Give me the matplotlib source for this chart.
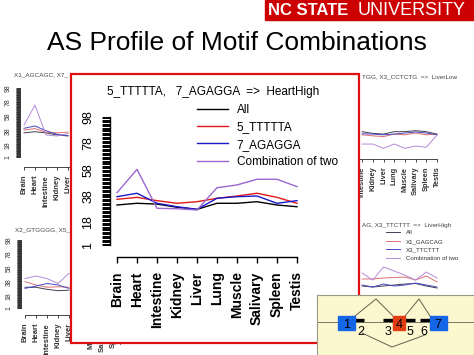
import matplotlib.pyplot as plt
from matplotlib.patches import Rectangle

plt.rcParams['font.family'] = ['Liberation Sans', 'DejaVu Sans']

tissues = ['Brain', 'Heart', 'Intestine', 'Kidney', 'Liver',
           'Lung', 'Muscle', 'Salivary', 'Spleen', 'Testis']
y_ticks = [1, 18, 38, 58, 78, 98]

# main chart: 5_TTTTTA, 7_AGAGGA => HeartHigh
main_labels = ['All', '5_TTTTTA', '7_AGAGGA', 'Combination of two']
main_all = [31.3, 32.6, 32.0, 29.6, 28.0, 32.6, 32.6, 33.8, 31.3, 30.0]
main_m5 = [35.6, 37.1, 34.6, 32.6, 33.8, 36.4, 38.1, 40.2, 37.1, 32.6]
main_m7 = [37.6, 40.2, 32.6, 30.0, 28.0, 36.4, 37.6, 38.1, 32.6, 34.6]
main_comb = [40.6, 58.3, 28.8, 28.5, 27.5, 44.4, 46.5, 50.8, 50.8, 45.2]

# background charts, only the parts not hidden by the inset
tl_idx = [0, 1, 2, 3, 4]
tl_all = [35.0, 36.6, 35.0, 32.0, 30.6]
tl_m1 = [39.0, 41.0, 36.0, 35.0, 36.0]
tl_m2 = [41.4, 44.7, 38.0, 33.0, 31.0]
tl_comb = [46.0, 74.0, 32.0, 30.6, 34.0]

bl_idx = [0, 1, 2, 3, 4]
bl_all = [30.6, 30.6, 27.7, 25.7, 26.5]
bl_m1 = [38.6, 33.9, 30.6, 31.4, 30.6]
bl_m2 = [29.0, 32.4, 36.0, 34.0, 29.0]
bl_comb = [43.0, 46.7, 43.0, 36.0, 50.6]

tr_idx = [2, 3, 4, 5, 6, 7, 8, 9]
tr_all = [25.4, 23.0, 22.0, 25.4, 25.4, 26.8, 25.4, 22.0]
tr_m1 = [21.0, 19.5, 18.5, 22.0, 21.0, 23.5, 21.0, 22.0]
tr_m2 = [22.5, 22.0, 21.0, 22.0, 23.5, 25.0, 23.5, 21.0]
tr_comb = [8.0, 8.0, 2.0, 8.0, 2.0, 5.2, 3.4, 20.7]

br_labels = ['All', 'X1_GAGCAG', 'X3_TTCTTT', 'Combination of two']
br_idx = [2, 3, 4, 5, 6, 7, 8, 9]
br_all = [20.7, 19.3, 20.7, 22.1, 23.5, 24.2, 20.7, 17.9]
br_m1 = [30.6, 30.6, 32.0, 32.7, 33.4, 29.2, 34.8, 26.4]
br_m2 = [22.1, 19.3, 23.5, 20.7, 22.1, 24.9, 22.1, 19.3]
br_comb = [39.0, 29.0, 47.5, 41.8, 36.0, 29.0, 40.4, 32.0]

main_colors = ['black', '#e01818', '#1a1ac8', '#9a66d0']
faint_colors = ['#404050', '#e07070', '#4848c0', '#b48ad8']

W, H = 474, 355
fig = plt.figure(figsize=(W / 100, H / 100), dpi=100)


def box(x0, y0, x1, y1, **kw):
    return fig.add_axes([x0 / W, 1 - y1 / H, (x1 - x0) / W, (y1 - y0) / H], **kw)


def profile(x_first, dx, y_v1, dy, y_axis, s, zorder, tc='black'):
    ax = box(x_first - 0.36 * dx, y_v1 - 101 * dy, x_first + 9.36 * dx, y_axis,
             zorder=zorder)
    ax.set_xlim(-0.36, 9.36)
    ax.set_ylim(1 - (y_axis - y_v1) / dy, 102)
    ax.patch.set_visible(False)
    ax.spines[['top', 'right']].set_visible(False)
    ax.spines['left'].set_bounds(1, 98)
    ax.spines['bottom'].set_bounds(0, 9)
    ax.set_xticks(range(10))
    ax.set_xticklabels(tissues, rotation=90, fontweight='bold',
                       fontsize=10 * s, color=tc)
    ax.set_yticks(y_ticks)
    ax.set_yticklabels(y_ticks, rotation=90, va='center', fontsize=9 * s, color=tc)
    ax.set_yticks(range(1, 99), minor=True)
    ax.tick_params(axis='y', which='both', length=5.8 * s, width=0.7,
                   pad=5.5 * s, colors=tc)
    ax.tick_params(axis='x', length=4.3 * s, width=0.8 * s + 0.2,
                   pad=6 * s, colors=tc)
    ax.tick_params(labelcolor=tc)
    for sp in ax.spines.values():
        sp.set_linewidth(0.8 * s + 0.2)
        sp.set_color(tc)
    return ax


def small(ax, idx, series, labels=None):
    for vals, c, lab in zip(series, faint_colors, labels or [None] * 4):
        ax.plot(idx, vals, color=c, lw=0.7, label=lab)


# background charts
ax_tl = profile(24, 11, 157, 0.71, 167, 0.55, 0, tc='#333333')
for t in ax_tl.get_xticklabels()[5:]:
    t.set_visible(False)  # fully behind the inset
small(ax_tl, tl_idx, [tl_all, tl_m1, tl_m2, tl_comb])
fig.text(14 / W, 1 - 75 / H, 'X1_AGCAGC, X7_', fontsize=4.6, color='#444444',
         va='center')

ax_bl = profile(25, 11, 308, 0.70, 315, 0.55, 0, tc='#333333')
small(ax_bl, bl_idx, [bl_all, bl_m1, bl_m2, bl_comb])
fig.text(15 / W, 1 - 230 / H, 'X2_GTGGGG, X5_', fontsize=4.6, color='#444444',
         va='center')

ax_tr = profile(340.7, 10.7, 149, 0.71, 159, 0.53, 0, tc='#333333')
ax_tr.tick_params(axis='y', labelleft=False)  # hidden behind the inset
small(ax_tr, tr_idx, [tr_all, tr_m1, tr_m2, tr_comb])
fig.text(362 / W, 1 - 77 / H, 'TGG, X3_CCTCTG  =>  LiverLow', fontsize=4.6,
         color='#444444', va='center')

ax_br = profile(340.7, 10.7, 300, 0.71, 310, 0.53, 0, tc='#333333')
ax_br.tick_params(labelleft=False, labelbottom=False)  # hidden by inset / diagram
small(ax_br, br_idx, [br_all, br_m1, br_m2, br_comb], br_labels)
fig.text(362 / W, 1 - 225 / H, 'AG, X3_TTCTTT  =>  LiverHigh', fontsize=4.6,
         color='#444444', va='center')
ax_br.legend(loc='upper left', bbox_to_anchor=(386 / W, 1 - 230 / H),
             bbox_transform=fig.transFigure, frameon=False, fontsize=4.4,
             handlelength=2.3, handletextpad=1.0, labelspacing=0.55,
             borderpad=0, borderaxespad=0, labelcolor='#333333')

# inset frame
fig.add_artist(Rectangle((71 / W, 1 - 343 / H), (359 - 71) / W, (343 - 74) / H,
                         transform=fig.transFigure, facecolor='white',
                         edgecolor='#e01010', lw=1.6, zorder=1))

# main chart
ax = profile(117, 20, 245, 1.32, 257, 1.0, 2)
for vals, c, lab in zip([main_all, main_m5, main_m7, main_comb], main_colors, main_labels):
    ax.plot(range(10), vals, color=c, lw=1.0, label=lab)
fig.text(107 / W, 1 - 92 / H, '5_TTTTTA,   7_AGAGGA  =>  HeartHigh', fontsize=8.5,
         va='center', zorder=3)
ax.legend(loc='upper left', bbox_to_anchor=(197 / W, 1 - 104 / H),
          bbox_transform=fig.transFigure, frameon=False, fontsize=8.5,
          handlelength=2.6, handletextpad=0.75, labelspacing=0.45,
          borderpad=0, borderaxespad=0)

# exon diagram
dg = box(317, 295, 474, 355, zorder=3)
dg.set_facecolor('#fcf7cf')
dg.set_xlim(317, 474)
dg.set_ylim(355, 295)
dg.set_xticks([])
dg.set_yticks([])
for sp in dg.spines.values():
    sp.set_color('#999988')
    sp.set_linewidth(0.8)
dg.axhline(322, color='#777766', lw=0.7)
for x0, w, c in [(338, 17, '#1466e6'), (393, 12, '#e23c12'), (430, 17, '#1466e6')]:
    dg.add_patch(Rectangle((x0, 316), w, 14, color=c, zorder=3))
for x0, x1 in [(355, 364), (383, 393), (405, 415), (420, 430)]:
    dg.plot([x0, x1], [320, 320], color='black', lw=2.4, solid_capstyle='butt')
for pts in [[(355, 316), (376, 299), (393, 316)], [(405, 316), (419, 299), (430, 316)],
            [(362, 333), (392, 347), (425, 335)]]:
    dg.plot(*zip(*pts), color='#665f50', lw=0.7)
for lab, x, y in [('1', 347, 325), ('2', 361, 332), ('3', 388, 332), ('4', 399, 325),
                  ('5', 410, 332), ('6', 424, 332), ('7', 438, 325)]:
    dg.text(x, y, lab, fontsize=9, ha='center', va='center', zorder=4)

# slide header
fig.add_artist(Rectangle((265 / W, 1 - 20 / H), (W - 265) / W, 20 / H,
                         transform=fig.transFigure, color='#cc0000', zorder=3))
fig.text(268 / W, 1 - 10.5 / H, 'NC STATE', fontsize=12, fontweight='bold',
         color='white', va='center', zorder=4)
fig.text(466 / W, 1 - 10.5 / H, 'UNIVERSITY', fontsize=13, color='white',
         va='center', ha='right', zorder=4)
fig.text(237 / W, 1 - 43 / H, 'AS Profile of Motif Combinations', fontsize=19,
         ha='center', va='center', zorder=4)

fig.savefig('out.png', dpi=100)
